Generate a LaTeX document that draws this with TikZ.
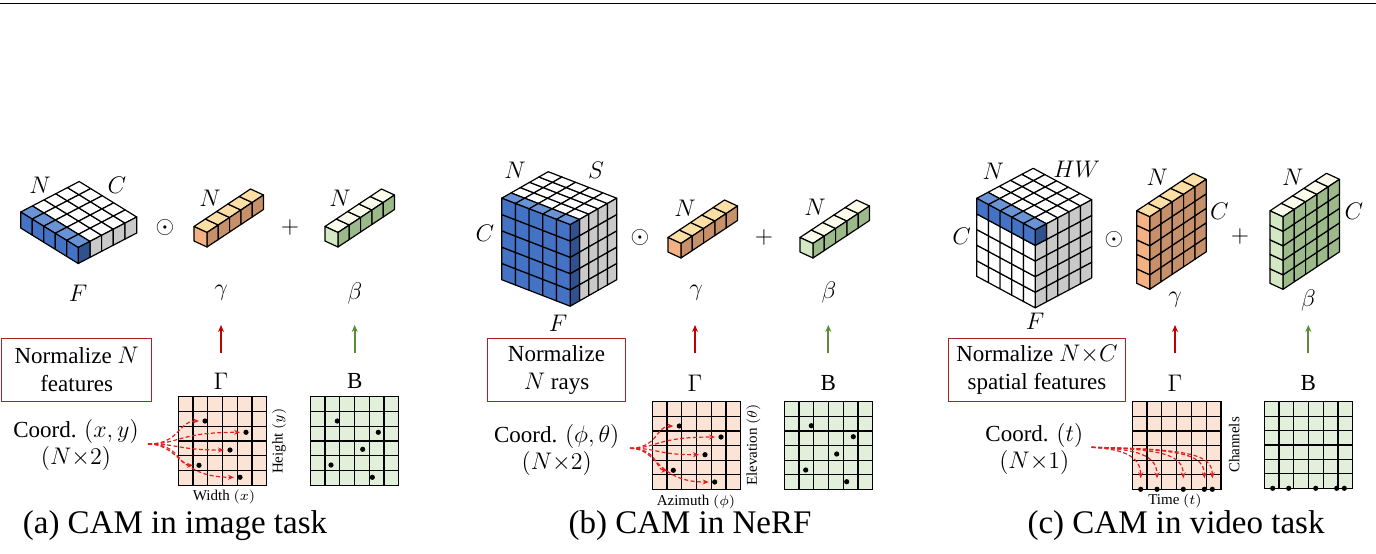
\documentclass[tikz,border=0pt]{standalone}
\usepackage{fontspec}
\setmainfont{Liberation Serif}
\usetikzlibrary{arrows.meta}
\definecolor{blueL}{HTML}{4472C4}
\definecolor{blueT}{HTML}{6A93D6}
\definecolor{blueD}{HTML}{2F528F}
\definecolor{greyR}{HTML}{C9C9C9}
\definecolor{yelT}{HTML}{FBDFA5}
\definecolor{orgL}{HTML}{F4B183}
\definecolor{brnR}{HTML}{C5906A}
\definecolor{whtT}{HTML}{FAFBEA}
\definecolor{grnL}{HTML}{D5E8C4}
\definecolor{grnR}{HTML}{9CB98A}
\definecolor{pinkG}{HTML}{FBE3D6}
\definecolor{grnG}{HTML}{E2EFDA}
\definecolor{boxred}{HTML}{AA2222}
\definecolor{fanred}{HTML}{E02020}
\definecolor{arrred}{HTML}{C00000}
\definecolor{arrgrn}{HTML}{5A8A3A}
% one face of a unit cell: corner (A,B,Z), fill colour
\newcommand{\topcell}[4]{\filldraw[fill=#4] (#1,#2,#3)--++(1,0,0)--++(0,1,0)--++(-1,0,0)--cycle;}
\newcommand{\sidecell}[4]{\filldraw[fill=#4] (#1,#2,#3)--++(0,1,0)--++(0,0,1)--++(0,-1,0)--cycle;}
\newcommand{\frontcell}[4]{\filldraw[fill=#4] (#1,#2,#3)--++(1,0,0)--++(0,0,1)--++(-1,0,0)--cycle;}
% 6x6 grid: left, top, width, height, fill
\newcommand{\camgrid}[5]{%
  \filldraw[fill=#5,line width=0.6pt] (#1,#2) rectangle ++(#3,#4);
  \foreach \g in {1,...,5} {
    \draw[line width=0.6pt] (#1+\g*#3/6,#2) -- ++(0,#4);
    \draw[line width=0.6pt] (#1,#2+\g*#4/6) -- ++(#3,0);
  }}
\tikzset{
  cell/.style={line width=0.6pt,line join=round},
  lab/.style={inner sep=0pt,font=\fontsize{11.5}{13}\selectfont},
  capt/.style={inner sep=0pt,font=\fontsize{16.5}{20}\selectfont},
  axl/.style={inner sep=0pt,font=\fontsize{7.5}{9}\selectfont},
  normbox/.style={draw=boxred,line width=0.6pt,align=center,minimum height=31.4pt,
    font=\fontsize{11.5}{14}\selectfont},
  dot/.style={circle,fill=black,inner sep=0pt,minimum size=2.6pt},
  fan/.style={draw=fanred,line width=0.6pt,dash pattern=on 2pt off 1.2pt,
    -{Stealth[length=3pt,width=2.5pt]},shorten >=1.5pt},
  gup/.style={draw=arrred,line width=1pt,-{Stealth[length=3.5pt,width=3pt]}},
  bup/.style={draw=arrgrn,line width=1pt,-{Stealth[length=3.5pt,width=3pt]}},
  gamvec/.style={x={(6.5pt,-3pt)},y={(5.65pt,3.75pt)},z={(0pt,7.25pt)}}
}
\begin{document}
\begin{tikzpicture}[x=0.5pt,y=-0.5pt]
\useasboundingbox (0,0) rectangle (1376,553);
\draw[line width=0.4pt] (0,3) -- (1376,3);

% ---------- (a) image task
\begin{scope}[cell,shift={(20.7,228)},x={(5.75pt,-3.55pt)},y={(5.85pt,3.05pt)},z={(0pt,8pt)}]
\foreach \i in {0,...,4} \foreach \j in {1,...,4} {\topcell{\i}{\j}{1}{white}}
\foreach \i in {0,...,4} {\topcell{\i}{0}{1}{blueT}}
\foreach \j in {1,...,4} {\sidecell{5}{\j}{0}{greyR}}
\sidecell{5}{0}{0}{blueD}
\foreach \i in {0,...,4} {\frontcell{\i}{0}{0}{blueL}}
\end{scope}
\begin{scope}[cell,shift={(194,241)},gamvec]
\foreach \j in {0,...,4} {\topcell{0}{\j}{1}{yelT}\sidecell{1}{\j}{0}{brnR}}
\frontcell{0}{0}{0}{orgL}
\end{scope}
\begin{scope}[cell,shift={(325,241)},gamvec]
\foreach \j in {0,...,4} {\topcell{0}{\j}{1}{whtT}\sidecell{1}{\j}{0}{grnR}}
\frontcell{0}{0}{0}{grnL}
\end{scope}
\node[lab] (aN) at (40,185) {$N$};
\node[lab] (aC) at (117,185) {$C$};
\node[lab] (aF) at (78,293) {$F$};
\node[lab] (aodot) at (165,227) {$\odot$};
\node[lab] (agN) at (210,198) {$N$};
\node[lab] (aplus) at (290,227) {$+$};
\node[lab] (abN) at (340,198) {$N$};
\node[lab] (aga) at (221,293) {$\gamma$};
\node[lab] (abe) at (355,293) {$\beta$};
\node[lab] (aGa) at (221,381) {$\Gamma$};
\node[lab] (aBe) at (354.7,381) {B};
\draw[gup] (221,353) -- (221,325);
\draw[bup] (354.7,353) -- (354.7,325);
\node[normbox,minimum width=75pt] (anorm) at (76.7,369.7) {Normalize $N$\\features};
\node[lab] (acoord) at (76,431) {Coord. $(x,y)$};
\node[lab] (acdim) at (76,458) {$(N{\times}2)$};
\camgrid{178.3}{396.7}{88.4}{88.4}{pinkG}
\camgrid{310.3}{396.7}{88.4}{88.4}{grnG}
\node[axl,rotate=90] (ahgt) at (279,441) {Height $(y)$};
\node[axl] (awid) at (224,497) {Width $(x)$};
\coordinate (afan) at (148,444);
\foreach \x/\y [count=\k] in {205/421,246/432.3,230/450,199/465.3,240/477.3} {
  \node[dot] (ag\k) at (\x,\y) {};
  \draw[fan] (afan) .. controls (180,444) and (178,\y) .. (ag\k);
}
\foreach \x/\y [count=\k] in {337.3/421,378.3/432.3,362.7/449.3,331/465,372.3/477.3}
  {\node[dot] (ab\k) at (\x,\y) {};}
\node[capt] (acap) at (175,526) {(a) CAM in image task};

% ---------- (b) NeRF
\begin{scope}[cell,shift={(501.7,279.7)},x={(6.85pt,-2.65pt)},y={(4.65pt,2.65pt)},z={(0pt,8.15pt)}]
\foreach \i in {0,...,4} \foreach \j in {1,...,4} {\topcell{\i}{\j}{5}{white}}
\foreach \i in {0,...,4} {\topcell{\i}{0}{5}{blueT}}
\foreach \j in {1,...,4} \foreach \k in {0,...,4} {\sidecell{5}{\j}{\k}{greyR}}
\foreach \k in {0,...,4} {\sidecell{5}{0}{\k}{blueD}}
\foreach \i in {0,...,4} \foreach \k in {0,...,4} {\frontcell{\i}{0}{\k}{blueL}}
\end{scope}
\begin{scope}[cell,shift={(668,252)},gamvec]
\foreach \j in {0,...,4} {\topcell{0}{\j}{1}{yelT}\sidecell{1}{\j}{0}{brnR}}
\frontcell{0}{0}{0}{orgL}
\end{scope}
\begin{scope}[cell,shift={(800,252)},gamvec]
\foreach \j in {0,...,4} {\topcell{0}{\j}{1}{whtT}\sidecell{1}{\j}{0}{grnR}}
\frontcell{0}{0}{0}{grnL}
\end{scope}
\node[lab] (bN) at (515,170) {$N$};
\node[lab] (bS) at (596,170) {$S$};
\node[lab] (bC) at (485,233) {$C$};
\node[lab] (bF) at (558,323) {$F$};
\node[lab] (bodot) at (640,237) {$\odot$};
\node[lab] (bgN) at (685,208) {$N$};
\node[lab] (bplus) at (764,237) {$+$};
\node[lab] (bbN) at (815,207) {$N$};
\node[lab] (bga) at (696,293) {$\gamma$};
\node[lab] (bbe) at (829,292) {$\beta$};
\node[lab] (bGa) at (695,383) {$\Gamma$};
\node[lab] (bBe) at (828.3,383) {B};
\draw[gup] (695,353) -- (695,325);
\draw[bup] (828.3,353) -- (828.3,325);
\node[normbox,minimum width=69.2pt] (bnorm) at (556.5,370) {Normalize\\$N$ rays};
\node[lab] (bcoord) at (556.7,436) {Coord. $(\phi,\theta)$};
\node[lab] (bcdim) at (556.7,463) {$(N{\times}2)$};
\camgrid{652.3}{401.7}{88.4}{87.6}{pinkG}
\camgrid{784.3}{401.7}{88.4}{87.6}{grnG}
\node[axl,rotate=90] (belev) at (753.3,445) {Elevation $(\theta)$};
\node[axl] (bazi) at (696,502) {Azimuth $(\phi)$};
\coordinate (bfan) at (630,448.3);
\foreach \x/\y [count=\k] in {679.3/426,721/437,705/454.7,673.3/470.3,714.7/482} {
  \node[dot] (bg\k) at (\x,\y) {};
  \draw[fan] (bfan) .. controls (658,448) and (656,\y) .. (bg\k);
}
\foreach \x/\y [count=\k] in {811.3/425.7,853.3/436.7,836.7/454,805.7/470,846.7/481.7}
  {\node[dot] (bb\k) at (\x,\y) {};}
\node[capt] (bcap) at (690,526) {(b) CAM in NeRF};

% ---------- (c) video task
\begin{scope}[cell,shift={(976.7,276.3)},x={(5.85pt,-3.15pt)},y={(5.65pt,3pt)},z={(0pt,7.8pt)}]
\foreach \i in {0,...,4} \foreach \j in {1,...,4} {\topcell{\i}{\j}{5}{white}}
\foreach \i in {0,...,4} {\topcell{\i}{0}{5}{blueT}}
\foreach \j in {1,...,4} \foreach \k in {0,...,4} {\sidecell{5}{\j}{\k}{greyR}}
\foreach \k in {0,...,3} {\sidecell{5}{0}{\k}{greyR}}
\sidecell{5}{0}{4}{blueD}
\foreach \i in {0,...,4} \foreach \k in {0,...,3} {\frontcell{\i}{0}{\k}{white}}
\foreach \i in {0,...,4} {\frontcell{\i}{0}{4}{blueL}}
\end{scope}
\begin{scope}[cell,shift={(1136.7,283.3)},gamvec]
\foreach \j in {0,...,4} {\topcell{0}{\j}{5}{yelT}}
\foreach \j in {0,...,4} \foreach \k in {0,...,4} {\sidecell{1}{\j}{\k}{brnR}}
\foreach \k in {0,...,4} {\frontcell{0}{0}{\k}{orgL}}
\end{scope}
\begin{scope}[cell,shift={(1270,283.3)},gamvec]
\foreach \j in {0,...,4} {\topcell{0}{\j}{5}{whtT}}
\foreach \j in {0,...,4} \foreach \k in {0,...,4} {\sidecell{1}{\j}{\k}{grnR}}
\foreach \k in {0,...,4} {\frontcell{0}{0}{\k}{grnL}}
\end{scope}
\node[lab] (cN) at (993.3,171.7) {$N$};
\node[lab] (cHW) at (1076.7,169.3) {$HW$};
\node[lab] (cC) at (961.7,236.7) {$C$};
\node[lab] (cF) at (1035,321.7) {$F$};
\node[lab] (codot) at (1114,239.3) {$\odot$};
\node[lab] (cgN) at (1157.3,177.3) {$N$};
\node[lab] (cgC) at (1219.3,211.7) {$C$};
\node[lab] (cplus) at (1240,236.7) {$+$};
\node[lab] (cbN) at (1292.7,177.3) {$N$};
\node[lab] (cbC) at (1354,211.7) {$C$};
\node[lab] (cga) at (1175,300) {$\gamma$};
\node[lab] (cbe) at (1308.3,300) {$\beta$};
\node[lab] (cGa) at (1175,383) {$\Gamma$};
\node[lab] (cBe) at (1308.3,383) {B};
\draw[gup] (1175,353) -- (1175,325);
\draw[bup] (1308.3,353) -- (1308.3,325);
\node[normbox,minimum width=88.7pt] (cnorm) at (1037,370) {Normalize $N{\times}C$\\spatial features};
\node[lab] (ccoord) at (1034.3,435) {Coord. $(t)$};
\node[lab] (ccdim) at (1034.3,462) {$(N{\times}1)$};
\camgrid{1132.3}{401.7}{88.7}{87.6}{pinkG}
\camgrid{1264.3}{401.7}{88.4}{86.6}{grnG}
\node[axl,rotate=90] (cchan) at (1234.3,445) {Channels};
\node[axl] (ctime) at (1175,501) {Time $(t)$};
\coordinate (cfan) at (1091.7,447.3);
\foreach \x [count=\k] in {1140.7,1157,1183.3,1204.3,1212.3} {
  \node[dot] (cg\k) at (\x,489.3) {};
  \draw[fan] (cfan) .. controls (\x-20,449) and (\x,455) .. ([yshift=2.5pt]cg\k.north);
}
\foreach \x [count=\k] in {1272.7,1288.7,1315.7,1336.7,1344.3}
  {\node[dot] (cb\k) at (\x,488.3) {};}
\node[capt] (ccap) at (1176,526) {(c) CAM in video task};
\end{tikzpicture}
\end{document}
